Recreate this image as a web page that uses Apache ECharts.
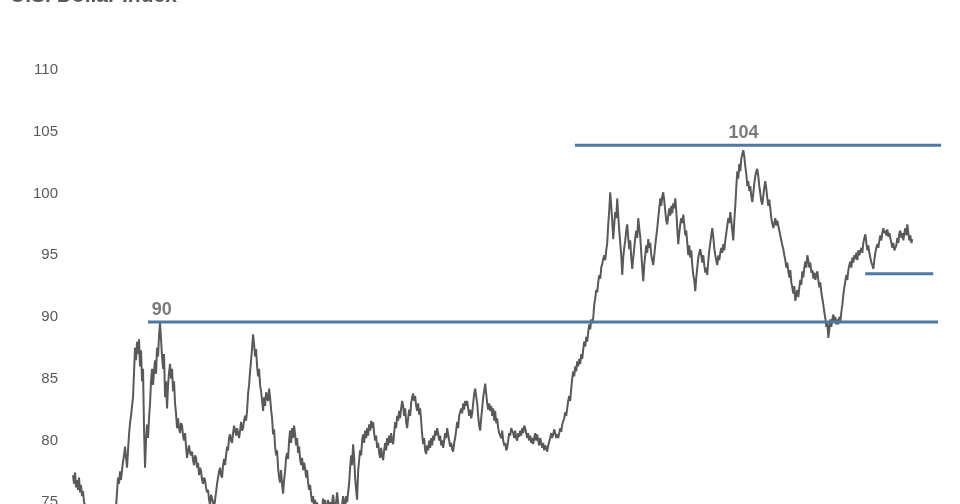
<!DOCTYPE html>
<html>
<head>
<meta charset="utf-8">
<script src="https://cdn.jsdelivr.net/npm/echarts@6/dist/echarts.min.js"></script>
<style>
html,body{margin:0;padding:0;width:960px;height:504px;overflow:hidden;background:#fff;}
#c{position:absolute;left:0;top:-20px;width:960px;height:620px;}
</style>
</head>
<body>
<div id="c"></div>
<script>
// U.S. Dollar Index, sampled about every 4.9 days from early 2008
const chartTitle = 'U.S. Dollar Index';
const startDate = '2008-01-02';
const stepDays = 4.909;
const dxyValues = [
77.2, 76.5, 77.4, 76.2, 76.8, 76.0, 77.0,
75.8, 76.4, 75.5, 75.9, 75.0, 74.8, 74.2, 73.6, 73.0, 72.5,
72.0, 71.6, 72.2, 71.8, 71.4, 72.0, 72.6, 73.0, 72.6, 73.2,
72.8, 72.4, 73.0, 73.4, 72.8, 72.4, 72.0, 72.6, 72.2, 72.8,
73.4, 73.8, 74.2, 73.8, 74.4, 74.0, 74.6, 75.8, 77.0, 76.5,
77.5, 76.8, 77.6, 78.3, 78.8, 79.5, 78.6, 77.8, 79.2, 80.5,
81.4, 82.0, 82.8, 83.5, 85.5, 87.5, 86.5, 88.0, 87.0, 88.2,
86.0, 87.3, 84.8, 85.8, 81.0, 77.8, 80.0, 81.3, 80.2, 81.8,
83.0, 84.8, 85.8, 84.5, 85.6, 86.5, 85.4, 87.5, 86.8, 88.5,
89.5, 88.2, 86.8, 85.8, 87.0, 83.5, 84.8, 82.6, 84.5, 85.5,
86.2, 85.0, 85.8, 84.0, 84.8, 83.0, 82.2, 81.0, 81.8, 81.0,
80.6, 81.4, 81.2, 80.4, 80.0, 80.6, 79.5, 78.6, 79.2, 79.6,
79.0, 78.8, 79.1, 78.4, 78.0, 78.8, 78.6, 77.8, 78.2, 77.2,
77.8, 77.5, 76.8, 76.5, 77.0, 76.8, 76.2, 75.8, 76.0, 75.2,
74.8, 75.6, 75.5, 75.0, 74.6, 75.2, 75.8, 76.5, 77.0, 77.5,
77.8, 77.2, 77.0, 78.0, 78.5, 78.0, 78.8, 79.5, 79.2, 80.2,
80.5, 80.0, 79.8, 80.6, 81.2, 80.8, 80.4, 81.0, 80.6, 80.2,
80.8, 81.5, 80.8, 81.0, 81.6, 82.0, 81.6, 82.4, 83.8, 84.5,
85.6, 86.5, 87.5, 88.6, 87.8, 86.8, 87.4, 86.0, 85.2, 85.8,
84.5, 84.0, 83.2, 82.4, 83.5, 82.8, 83.9, 84.0, 83.2, 84.2,
83.5, 82.5, 81.8, 80.5, 80.9, 79.5, 78.8, 79.2, 77.8, 77.0,
76.6, 77.6, 76.4, 75.7, 76.8, 77.5, 78.6, 79.0, 78.5, 80.0,
80.8, 79.8, 81.0, 80.2, 81.2, 80.5, 79.6, 80.2, 79.0, 79.5,
78.5, 78.0, 78.6, 77.6, 78.2, 77.8, 77.0, 77.6, 76.6, 76.0,
76.4, 75.6, 75.0, 75.5, 74.6, 75.2, 74.4, 75.0, 74.2, 74.0,
73.2, 73.5, 74.5, 75.3, 74.6, 75.2, 74.2, 74.6, 75.2, 74.4,
75.0, 74.4, 75.0, 75.6, 74.8, 74.4, 75.0, 75.8, 75.0, 74.5,
74.2, 74.0, 74.8, 75.5, 75.0, 74.6, 75.5, 75.0, 75.8, 76.5,
77.8, 78.8, 78.0, 79.7, 78.6, 77.0, 76.0, 75.2, 77.5, 78.4,
79.2, 78.8, 80.0, 80.5, 79.8, 80.8, 80.2, 81.0, 80.4, 81.3,
80.8, 81.6, 81.0, 81.5, 80.6, 80.0, 80.4, 79.4, 79.8, 79.0,
78.6, 79.4, 78.8, 78.4, 79.2, 79.8, 79.2, 80.2, 79.6, 80.4,
79.8, 80.6, 79.9, 79.7, 80.6, 81.5, 81.0, 82.0, 81.6, 82.4,
81.8, 82.6, 83.2, 82.8, 82.0, 82.6, 81.5, 81.0, 81.8, 82.5,
82.0, 83.0, 83.5, 83.8, 83.2, 83.6, 82.8, 82.4, 83.0, 82.1,
82.6, 81.6, 80.5, 79.7, 80.2, 79.2, 78.9, 79.6, 79.2, 80.0,
79.4, 80.2, 79.6, 80.4, 80.0, 80.8, 80.4, 81.0, 80.6, 80.0,
80.4, 79.6, 80.0, 79.4, 80.0, 80.6, 80.2, 81.0, 80.5, 80.0,
79.5, 79.8, 79.3, 79.1, 79.8, 80.2, 80.8, 81.5, 81.0, 82.0,
82.1, 82.6, 82.2, 83.0, 82.5, 83.2, 82.8, 83.2, 82.6, 82.0,
82.5, 81.8, 82.2, 83.0, 83.8, 84.2, 83.6, 83.0, 82.0, 81.2,
80.8, 81.8, 82.6, 83.5, 84.0, 84.6, 83.8, 83.0, 82.5, 83.0,
82.4, 82.8, 82.0, 82.6, 81.6, 82.4, 81.4, 81.8, 81.0, 80.6,
80.5, 80.2, 80.8, 80.0, 79.6, 79.8, 79.2, 79.4, 80.0, 80.6,
80.4, 81.0, 81.0, 80.6, 80.2, 80.8, 80.2, 80.0, 80.6, 80.3,
80.8, 80.4, 81.0, 80.6, 81.2, 81.0, 80.6, 80.2, 80.6, 80.0,
80.4, 79.8, 80.2, 79.7, 80.2, 80.6, 80.0, 80.5, 80.0, 79.6,
80.2, 79.8, 79.4, 79.8, 79.2, 79.6, 79.4, 79.1, 79.6, 79.9,
80.2, 80.6, 80.2, 80.5, 80.9, 80.6, 80.2, 80.5, 80.2, 80.6,
81.0, 80.7, 81.3, 81.3, 81.8, 82.3, 82.0, 82.6, 83.2, 83.6,
83.2, 84.2, 85.0, 85.6, 85.2, 86.0, 85.6, 86.4, 86.0, 86.6,
86.2, 87.0, 86.6, 87.4, 88.0, 87.6, 88.4, 88.0, 88.8, 89.4,
89.0, 89.8, 89.5, 89.9, 91.0, 91.5, 92.2, 92.0, 92.8, 93.4,
93.1, 94.0, 94.3, 94.7, 95.0, 94.6, 95.4, 96.0, 97.5, 98.6,
100.1, 99.0, 97.8, 96.3, 97.5, 98.5, 98.0, 99.6, 98.2, 97.0,
96.0, 95.0, 93.4, 94.8, 95.6, 96.2, 97.0, 97.5, 96.4, 95.5,
96.2, 94.8, 93.9, 94.8, 95.6, 96.4, 97.0, 96.4, 98.0, 97.2,
96.5, 95.2, 94.0, 92.9, 94.2, 95.0, 95.8, 95.2, 96.3, 95.6,
96.0, 95.0, 94.6, 94.2, 95.0, 95.8, 96.5, 97.2, 98.0, 98.8,
99.6, 99.0, 99.8, 100.1, 99.4, 98.6, 97.8, 97.5, 98.2, 98.8,
98.2, 99.0, 98.4, 99.2, 98.8, 99.6, 98.6, 97.2, 95.9, 96.8,
97.5, 98.0, 97.6, 98.3, 97.5, 96.6, 97.0, 96.0, 95.0, 95.8,
94.8, 95.4, 94.2, 93.4, 93.0, 92.1, 93.2, 94.0, 94.8, 95.2,
95.5, 95.0, 94.4, 95.0, 94.2, 93.6, 94.0, 93.4, 94.5, 95.4,
96.0, 96.6, 97.2, 96.5, 95.6, 95.0, 94.6, 94.2, 95.0, 94.6,
95.2, 95.6, 95.2, 95.9, 95.4, 96.2, 96.8, 97.4, 98.0, 97.6,
98.5, 97.8, 97.0, 96.2, 97.8, 99.0, 100.5, 101.8, 101.2, 102.4,
101.8, 102.8, 103.2, 103.5, 103.0, 102.2, 101.6, 100.6, 101.0, 100.2,
100.6, 99.8, 99.3, 100.0, 100.8, 101.4, 101.8, 102.0, 101.4, 100.6,
100.0, 99.4, 99.1, 99.8, 100.5, 101.0, 100.4, 99.6, 99.0, 99.5,
98.8, 98.0, 97.6, 97.2, 97.6, 98.0, 97.4, 97.8, 97.7, 97.0,
96.6, 96.2, 95.8, 95.5, 95.0, 94.6, 94.0, 94.4, 93.7, 93.2,
93.8, 92.8, 92.4, 91.9, 92.5, 91.3, 91.8, 92.2, 91.6, 92.4,
93.0, 92.6, 93.7, 93.2, 94.0, 94.5, 94.0, 95.0, 94.6, 94.0,
94.4, 93.6, 93.8, 93.1, 93.6, 93.0, 93.4, 93.7, 93.0, 92.4,
92.8, 92.0, 91.5, 91.0, 90.4, 89.9, 89.2, 89.6, 88.3, 89.0,
89.8, 89.2, 89.8, 90.2, 89.6, 90.0, 89.4, 89.8, 89.4, 90.0,
89.6, 90.4, 91.0, 91.8, 92.4, 92.9, 93.4, 93.0, 93.8, 94.2,
94.5, 94.0, 94.8, 94.4, 95.0, 94.7, 95.2, 94.6, 95.4, 95.0,
95.0, 95.6, 95.2, 96.0, 96.4, 96.7, 96.0, 95.4, 95.8, 95.2,
94.8, 94.4, 94.2, 93.9, 94.6, 95.2, 95.6, 95.9, 95.6, 96.2,
96.6, 96.2, 96.8, 97.2, 96.8, 97.0, 96.6, 97.1, 96.5, 96.8,
96.4, 96.0, 95.6, 96.0, 95.4, 95.3, 95.8, 96.4, 96.0, 96.8,
97.0, 96.4, 96.8, 96.2, 96.8, 97.2, 96.6, 97.5, 96.8, 96.2,
96.6, 96.0, 96.3
];

// Support / resistance levels
const levelValues = [89.6, 103.9, 93.5];
const levelStarts = ['2009-01-04', '2014-09-30', '2018-08-24'];
const levelEnds   = ['2019-08-17', '2019-09-01', '2019-07-24'];
const levelLabels = ['90', '104', ''];
const levelLabelDates = ['2009-03-13', '2017-01-04', null];

// y axis
const yMin = 70, yMax = 110, yStep = 5;
const xMin = '2008-01-02', xMax = '2019-09-10';

const t0 = new Date(startDate + 'T00:00:00Z').getTime();
const dayMs = 86400000;
const lineData = dxyValues.map((v, i) => [t0 + i * stepDays * dayMs, v]);

const levelSeries = levelValues.map((v, i) => ({
  type: 'line', data: [[levelStarts[i], v], [levelEnds[i], v]],
  showSymbol: false, symbol: 'none', silent: true,
  lineStyle: { color: '#4f79a3', width: 3 }, z: 3, animation: false
}));

const labelData = [];
levelValues.forEach((v, i) => {
  if (levelLabelDates[i]) labelData.push({ value: [levelLabelDates[i], v], name: levelLabels[i] });
});

const chart = echarts.init(document.getElementById('c'), null, { renderer: 'canvas' });
chart.setOption({
  backgroundColor: '#fff',
  animation: false,
  title: {
    text: chartTitle, left: 5, top: 1,
    textStyle: { color: '#595959', fontSize: 21, fontWeight: 'bold', fontFamily: 'Liberation Sans, Arial, sans-serif' }
  },
  grid: { left: 73, right: 17, top: 90, bottom: 36, containLabel: false },
  xAxis: {
    type: 'time', min: xMin, max: xMax, show: false,
    splitLine: { show: false }
  },
  yAxis: {
    type: 'value', min: yMin, max: yMax, interval: yStep,
    axisLine: { show: false }, axisTick: { show: false }, splitLine: { show: false },
    axisLabel: { color: '#595959', fontSize: 15, margin: 15, fontFamily: 'Liberation Sans, Arial, sans-serif' }
  },
  series: [
    {
      type: 'line', data: lineData, showSymbol: false, symbol: 'none',
      sampling: null, silent: true, z: 2,
      lineStyle: { color: '#595959', width: 2 }
    }
  ].concat(levelSeries).concat([
    {
      type: 'scatter', data: labelData, symbolSize: 0, silent: true, z: 4,
      label: {
        show: true, position: 'top', distance: 3,
        formatter: p => p.name,
        color: '#595959', fontSize: 18, fontWeight: 'bold',
        fontFamily: 'Liberation Sans, Arial, sans-serif'
      }
    }
  ])
});
</script>
</body>
</html>
